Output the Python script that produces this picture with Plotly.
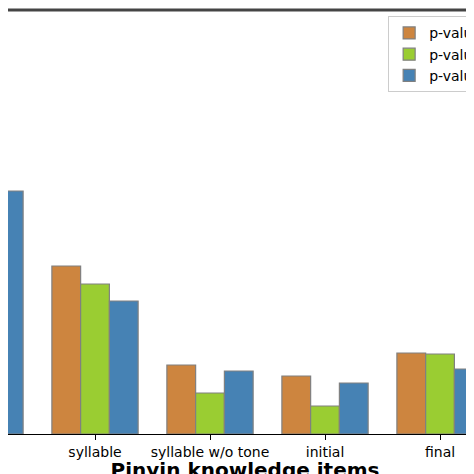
import plotly.graph_objects as go

# category positions: index 0 is a group cut off at the left edge
categories = ["", "syllable", "syllable w/o tone", "initial", "final"]
positions = [0, 1, 2, 3, 4]
series_names = ["p-value < 0.05", "p-value < 0.01", "p-value < 0.001"]
orange_vals = [None, 168, 69, 58, 81]
green_vals = [None, 150, 41, 28, 80]
blue_vals = [243, 133, 63, 51, 65]
colors = ["#CD853F", "#9ACD32", "#4682B4"]

fig = go.Figure()
for name, vals, col in zip(series_names, [orange_vals, green_vals, blue_vals], colors):
    fig.add_trace(go.Bar(
        x=positions, y=vals, name=name,
        marker=dict(color=col, line=dict(color="#808080", width=1.2)),
    ))

fig.update_layout(
    width=474, height=474,
    margin=dict(l=0, r=0, t=2, b=48, autoexpand=False),
    barmode="group", bargap=0.25, bargroupgap=0,
    plot_bgcolor="white", paper_bgcolor="white",
    font=dict(family="DejaVu Sans", color="black"),
    shapes=[dict(type="line", xref="paper", yref="paper", x0=0, x1=1, y0=1, y1=1,
                 line=dict(color="#444444", width=3))],
    legend=dict(x=0.802, y=0.985, xanchor="left", yanchor="top",
                bordercolor="#cccccc", borderwidth=1, bgcolor="white",
                font=dict(size=14), itemwidth=30, tracegroupgap=0),
    xaxis=dict(range=[0.2435, 4.365], tickvals=positions, ticktext=categories,
               ticks="outside", ticklen=5, tickcolor="black", tickfont=dict(size=14),
               showline=True, linecolor="black", linewidth=1.2, showgrid=False,
               title=dict(text="<b>Pinyin knowledge items</b>", font=dict(size=20), standoff=2)),
    yaxis=dict(range=[0, 424], visible=False, showgrid=False),
)

fig.write_html("out.html")
